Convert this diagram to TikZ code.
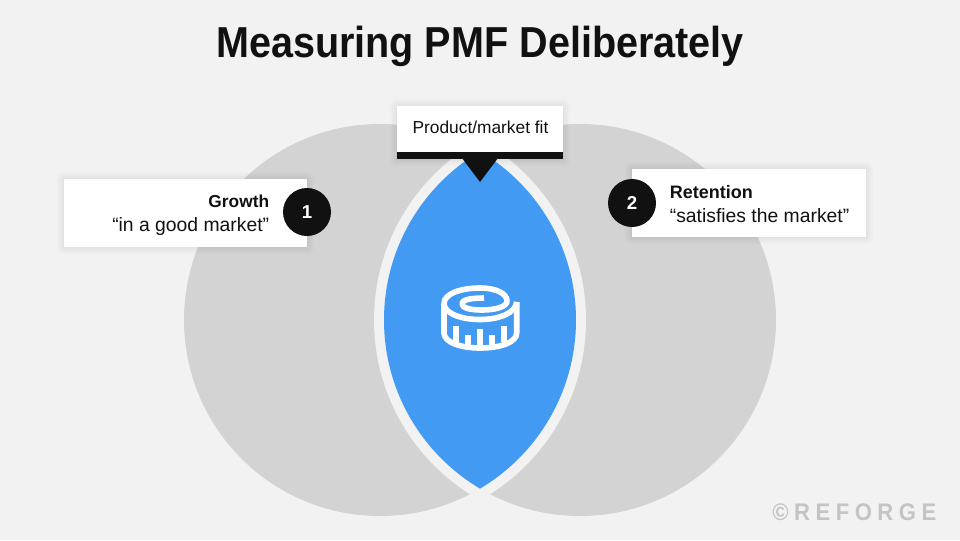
\documentclass[tikz,border=0pt]{standalone}
\usepackage{fontspec}
\setmainfont{Liberation Sans}
\newfontfamily\titlefont[FakeStretch=0.913]{Liberation Sans}
\newfontfamily\logofont[FakeStretch=0.92,LetterSpace=23]{Liberation Sans}
\usetikzlibrary{positioning}
\definecolor{pagebg}{HTML}{F2F2F2}
\definecolor{marketgray}{HTML}{D3D3D3}
\definecolor{fitblue}{HTML}{429AF3}
\definecolor{inkblack}{HTML}{111111}
\definecolor{logogray}{HTML}{C4C4C4}

\begin{document}
\begin{tikzpicture}
[x=0.75pt,y=-0.75pt,inner sep=0pt,
market/.style={circle,fill=marketgray,minimum size=294pt},
glow/.style={preaction={draw=black,draw opacity=0.016,line width=#1}},
callout/.style={rectangle,fill=white,line join=round,glow=10pt,glow=7pt,glow=4pt,glow=2pt},
badge/.style={circle,fill=inkblack,text=white,minimum size=36pt,font=\bfseries\fontsize{14}{14}\selectfont},
tape/.style={draw=white,line width=4.2pt,line cap=butt,line join=round},
tick/.style={draw=white,line width=4pt},
body/.style={font=\fontsize{14.5}{18}\selectfont,text=inkblack}]
\useasboundingbox (0,0) rectangle (960,540);
\fill[pagebg] (0,0) rectangle (960,540);
\node[font=\titlefont\bfseries\fontsize{32.5}{32.5}\selectfont,text=inkblack,anchor=base] (title) at (480,57) {Measuring PMF Deliberately};
\node[market] (growth circle) at (380,320) {};
\node[market] (retention circle) at (580,320) {};
% gap and lens
\begin{scope}
\clip (380,320) circle (154.5pt);
\fill[pagebg] (580,320) circle (154.5pt);
\end{scope}
\begin{scope}
\clip (380,320) circle (147pt);
\fill[fitblue] (580,320) circle (147pt);
\end{scope}
% tape measure
\draw[tape] (516.7,302) .. controls (516,312) and (501,319.5) .. (480,319.5)
 .. controls (458,319.5) and (444,312) .. (444,303.5)
 .. controls (444,294) and (460,288) .. (480,288)
 .. controls (497,288) and (507,294) .. (507,301)
 .. controls (507,307) and (495,310) .. (482,310)
 .. controls (470,310) and (462,308) .. (462,303.5)
 .. controls (462,300) and (470,298) .. (484,298);
\draw[tape] (444,303.5) -- (444,333)
 .. controls (444,342) and (460,348) .. (480,348)
 .. controls (501,348) and (516.7,342) .. (516.7,333) -- (516.7,302);
\draw[tick] (456,326) -- (456,342);
\draw[tick] (468,335) -- (468,346);
\draw[tick] (480,329) -- (480,347);
\draw[tick] (492,335) -- (492,346);
\draw[tick] (504,326) -- (504,342);
% callouts
\node[callout,minimum width=124.5pt,minimum height=40pt] (fit box) at (480,132.5) {};
\node[font=\fontsize{13}{13}\selectfont,text=inkblack] (fit label) at (480.5,127) {Product/market fit};
\fill[inkblack] (fit box.south west) rectangle ([yshift=5.5pt]fit box.south east);
\fill[inkblack] (462.7,159) -- (480,182) -- (497.3,159) -- cycle;
\node[callout,minimum width=182.25pt,minimum height=51pt] (growth box) at (185.5,213) {};
\node[callout,minimum width=175.5pt,minimum height=51pt] (retention box) at (749,203) {};
\node[badge] (growth badge) at (307,212) {1};
\node[badge] (retention badge) at (632,203) {2};
\node[body,align=right,left=10pt of growth badge,yshift=-2.2pt] (growth label) {\textbf{\fontsize{13}{18}\selectfont Growth}\\“in a good market”};
\node[body,align=left,right=10pt of retention badge,yshift=-0.5pt] (retention label) {\textbf{\fontsize{13.5}{18}\selectfont Retention}\\“satisfies the market”};
\node[font=\logofont\bfseries\fontsize{18}{18}\selectfont,text=logogray,anchor=base west] (logo) at (772,520) {©REFORGE};
\end{tikzpicture}
\end{document}
